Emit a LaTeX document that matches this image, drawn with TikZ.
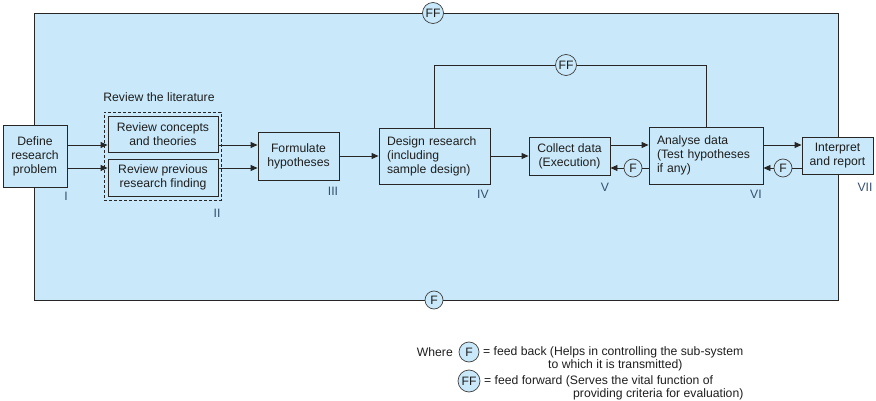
\documentclass[tikz,border=0pt]{standalone}
\usepackage{fontspec}
\setmainfont{Liberation Sans}
\usetikzlibrary{arrows.meta}
\definecolor{bg}{HTML}{C9E9FA}
\definecolor{txt}{HTML}{1E1E1E}
\definecolor{num}{HTML}{34506E}
\tikzset{
  every node/.style={font=\fontsize{12.2}{14}\selectfont, text=txt},
  box/.style={draw=black!85, fill=bg, line width=0.9pt, inner sep=0pt, align=center},
  lbox/.style={box, align=left},
  fcirc/.style={circle, draw=black!75, fill=bg, line width=0.7pt, inner sep=0pt, minimum size=18pt, font=\fontsize{12.2}{12}\selectfont},
  ffcirc/.style={fcirc, minimum size=21pt},
  numl/.style={text=num, font=\fontsize{12.2}{12}\selectfont},
  conn/.style={line width=0.9pt, draw=black!85},
  arr/.style={conn, -{Triangle[length=7pt,width=6pt]}},
}
\begin{document}
\begin{tikzpicture}[x=1pt,y={(0pt,-1pt)}]
\useasboundingbox (0,0) rectangle (876,401);
% background system
\node[draw=black!85, fill=bg, line width=0.9pt, minimum width=804pt, minimum height=287pt, inner sep=0pt] (sys) at (436,156.5) {};
\node[ffcirc] (fftop) at (433,13) {FF};
\node[fcirc] (fbot) at (434,300) {F};
% boxes
\node[box, minimum width=64pt, minimum height=62pt] (def) at (35,156) {Define\\research\\problem};
\node[draw=black!85, dash pattern=on 3pt off 2pt, line width=0.8pt, minimum width=117pt, minimum height=88pt, inner sep=0pt] (lit) at (162.5,156) {};
\node (littitle) at (159,97) {Review the literature};
\node[box, minimum width=110pt, minimum height=36pt] (rc) at (163,134) {Review concepts\\and theories};
\node[box, minimum width=110pt, minimum height=37pt] (rp) at (163,177.5) {Review previous\\research finding};
\node[box, minimum width=81pt, minimum height=48pt] (form) at (298.5,156) {Formulate\\hypotheses};
\node[lbox, minimum width=111pt, minimum height=56pt, text width=95pt] (des) at (434.5,156) {Design research\\(including\\sample design)};
\node[box, minimum width=81pt, minimum height=38pt] (col) at (569.5,156) {Collect data\\(Execution)};
\node[lbox, minimum width=114pt, minimum height=57pt, text width=98pt] (ana) at (706,155.5) {Analyse data\\(Test hypotheses\\if any)};
\node[box, minimum width=71pt, minimum height=37pt] (int) at (837.5,155.5) {Interpret\\and report};
% numerals
\node[numl] (n1) at (66,196) {I};
\node[numl] (n2) at (217,213) {II};
\node[numl] (n3) at (333,191) {III};
\node[numl] (n4) at (483,194) {IV};
\node[numl] (n5) at (605,187) {V};
\node[numl] (n6) at (756,194) {VI};
\node[numl] (n7) at (865,187) {VII};
% connectors
\draw[arr] (def.east |- 0,145) -- (rc.west |- 0,145);
\draw[arr] (def.east |- 0,168) -- (rp.west |- 0,168);
\draw[arr] (rc.east |- 0,145) -- (form.west |- 0,145);
\draw[arr] (rp.east |- 0,168) -- (form.west |- 0,168);
\draw[arr] (form.east) -- (des.west);
\draw[arr] (des.east) -- (col.west);
\draw[arr] (col.east |- 0,145) -- (ana.west |- 0,145);
\draw[arr] (ana.east |- 0,145) -- (int.west |- 0,145);
\node[ffcirc] (ffmid) at (566,65) {FF};
\draw[conn] (des.north) -- (des.north |- ffmid) -- (ffmid.west);
\draw[conn] (ffmid.east) -- (ana.north |- ffmid) -- (ana.north);
\node[fcirc] (fb1) at (633,168) {F};
\node[fcirc] (fb2) at (783,168) {F};
\draw[conn] (ana.west |- fb1) -- (fb1.east);
\draw[arr] (fb1.west) -- (col.east |- fb1);
\draw[conn] (int.west |- fb2) -- (fb2.east);
\draw[arr] (fb2.west) -- (ana.east |- fb2);
% legend
\node[fcirc, minimum size=20pt] (lf) at (469,352) {F};
\node[anchor=east, inner sep=0pt] (where) at (453,352) {Where};
\node[anchor=west, inner sep=0pt] (l1) at (483,352) {= feed back (Helps in controlling the sub-system};
\node[anchor=west, inner sep=0pt] (l2) at (548,365) {to which it is transmitted)};
\node[ffcirc, minimum size=22pt] (lff) at (469,381) {FF};
\node[anchor=west, inner sep=0pt] (l3) at (484,381) {= feed forward (Serves the vital function of};
\node[anchor=west, inner sep=0pt] (l4) at (573,394) {providing criteria for evaluation)};
\end{tikzpicture}
\end{document}
